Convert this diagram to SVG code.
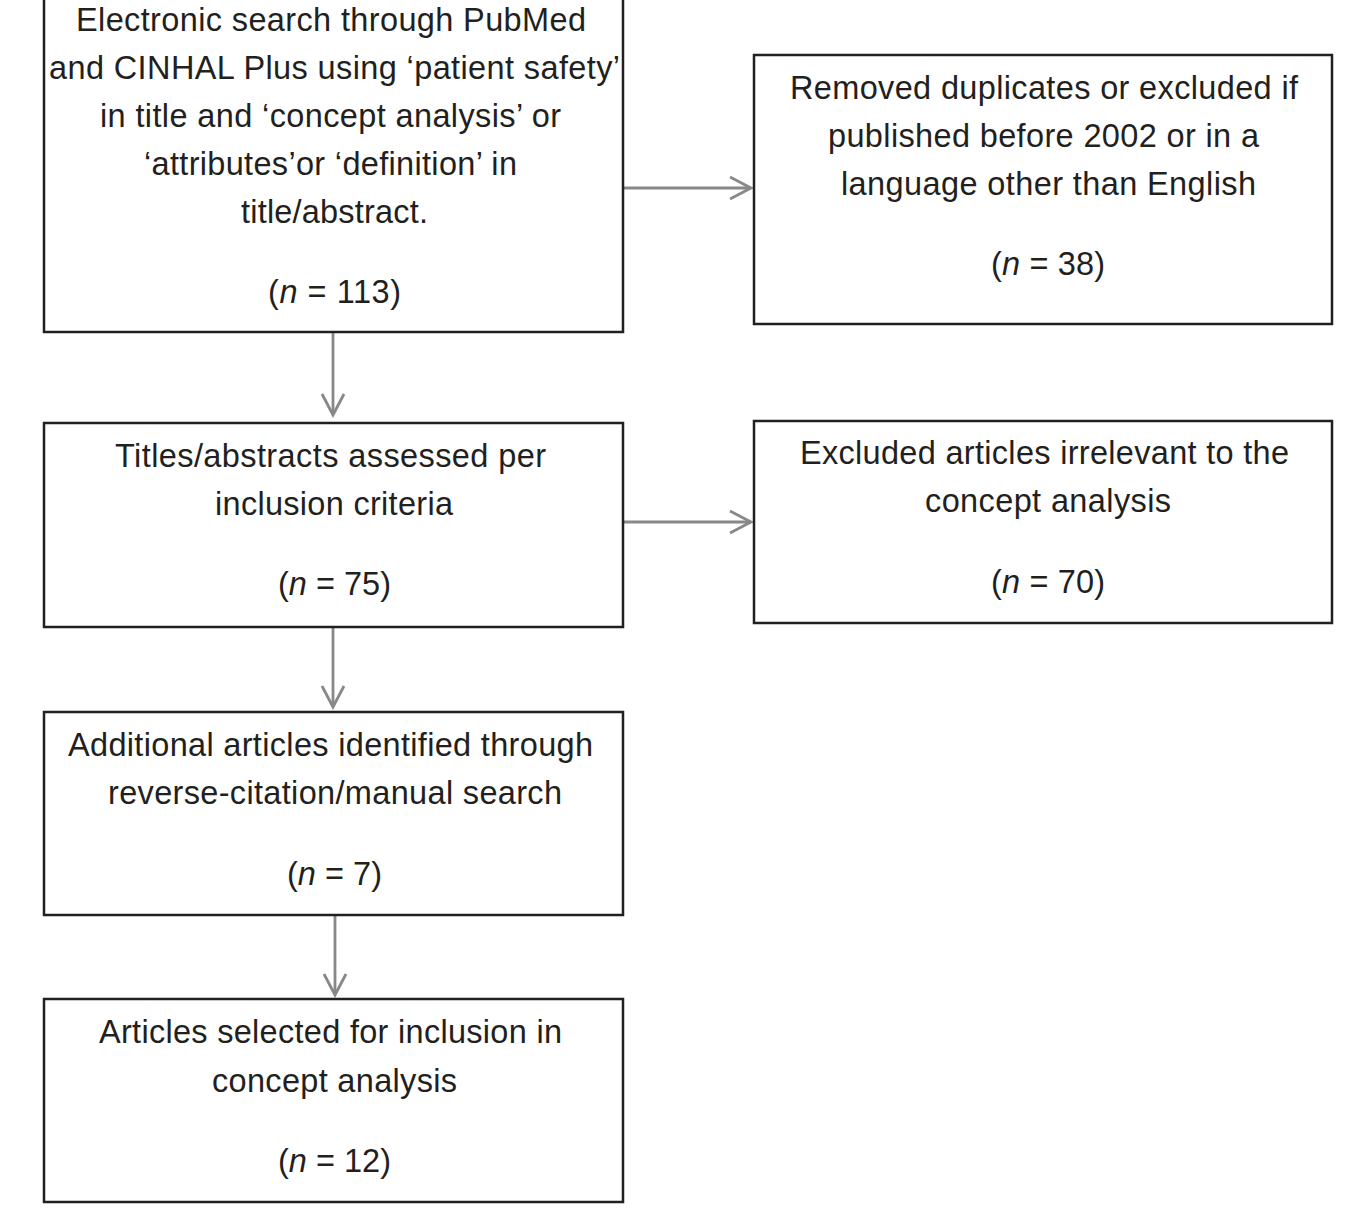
<svg xmlns="http://www.w3.org/2000/svg" width="1349" height="1222" viewBox="0 0 1349 1222">
<defs>
<style>
.box{fill:#fff;stroke:#231f20;stroke-width:2.5}
.t{font-family:"Liberation Sans",Arial,sans-serif;font-size:32.5px;fill:#231f20;text-anchor:middle}
.c{stroke:#888;stroke-width:2.8;fill:none}
</style>
<marker id="ah" markerWidth="26" markerHeight="26" refX="23" refY="13" orient="auto" markerUnits="userSpaceOnUse" viewBox="0 0 26 26">
<path d="M2,2 L23,13 L2,24" fill="none" stroke="#888" stroke-width="2.8"/>
</marker>
</defs>
<rect width="1349" height="1222" fill="#fff"/>
<g id="connectors">
<line class="c" x1="623" y1="188" x2="751" y2="188" marker-end="url(#ah)"/>
<line class="c" x1="333" y1="332" x2="333" y2="415" marker-end="url(#ah)"/>
<line class="c" x1="623" y1="522" x2="751" y2="522" marker-end="url(#ah)"/>
<line class="c" x1="333" y1="627" x2="333" y2="707" marker-end="url(#ah)"/>
<line class="c" x1="335" y1="915" x2="335" y2="995" marker-end="url(#ah)"/>
</g>
<g id="n1">
<rect class="box" x="44" y="-4" width="579" height="336"/>
<text class="t" x="331" y="31" textLength="510">Electronic search through PubMed</text>
<text class="t" x="334.5" y="79" textLength="571">and CINHAL Plus using ‘patient safety’</text>
<text class="t" x="330.5" y="127" textLength="461">in title and ‘concept analysis’ or</text>
<text class="t" x="330.5" y="175" textLength="373">‘attributes’or ‘definition’ in</text>
<text class="t" x="334.5" y="223" textLength="187">title/abstract.</text>
<text class="t" x="334.5" y="303" textLength="133">(<tspan font-style="italic">n</tspan> = 113)</text>
</g>
<g id="n2">
<rect class="box" x="754" y="55" width="578" height="269"/>
<text class="t" x="1044" y="99" textLength="508">Removed duplicates or excluded if</text>
<text class="t" x="1043.5" y="147" textLength="431">published before 2002 or in a</text>
<text class="t" x="1048.5" y="195" textLength="415">language other than English</text>
<text class="t" x="1048" y="275" textLength="114">(<tspan font-style="italic">n</tspan> = 38)</text>
</g>
<g id="n3">
<rect class="box" x="44" y="423" width="579" height="204"/>
<text class="t" x="330.5" y="467" textLength="431">Titles/abstracts assessed per</text>
<text class="t" x="334" y="515" textLength="238">inclusion criteria</text>
<text class="t" x="334.5" y="595" textLength="113">(<tspan font-style="italic">n</tspan> = 75)</text>
</g>
<g id="n4">
<rect class="box" x="754" y="421" width="578" height="202"/>
<text class="t" x="1044.5" y="464" textLength="489">Excluded articles irrelevant to the</text>
<text class="t" x="1048" y="512" textLength="246">concept analysis</text>
<text class="t" x="1048" y="593" textLength="114">(<tspan font-style="italic">n</tspan> = 70)</text>
</g>
<g id="n5">
<rect class="box" x="44" y="712" width="579" height="203"/>
<text class="t" x="330.5" y="756" textLength="525">Additional articles identified through</text>
<text class="t" x="335" y="804" textLength="454">reverse-citation/manual search</text>
<text class="t" x="334.5" y="885" textLength="95">(<tspan font-style="italic">n</tspan> = 7)</text>
</g>
<g id="n6">
<rect class="box" x="44" y="999" width="579" height="203"/>
<text class="t" x="330.5" y="1043" textLength="463">Articles selected for inclusion in</text>
<text class="t" x="334.5" y="1092" textLength="245">concept analysis</text>
<text class="t" x="334.5" y="1172" textLength="113">(<tspan font-style="italic">n</tspan> = 12)</text>
</g>
</svg>
